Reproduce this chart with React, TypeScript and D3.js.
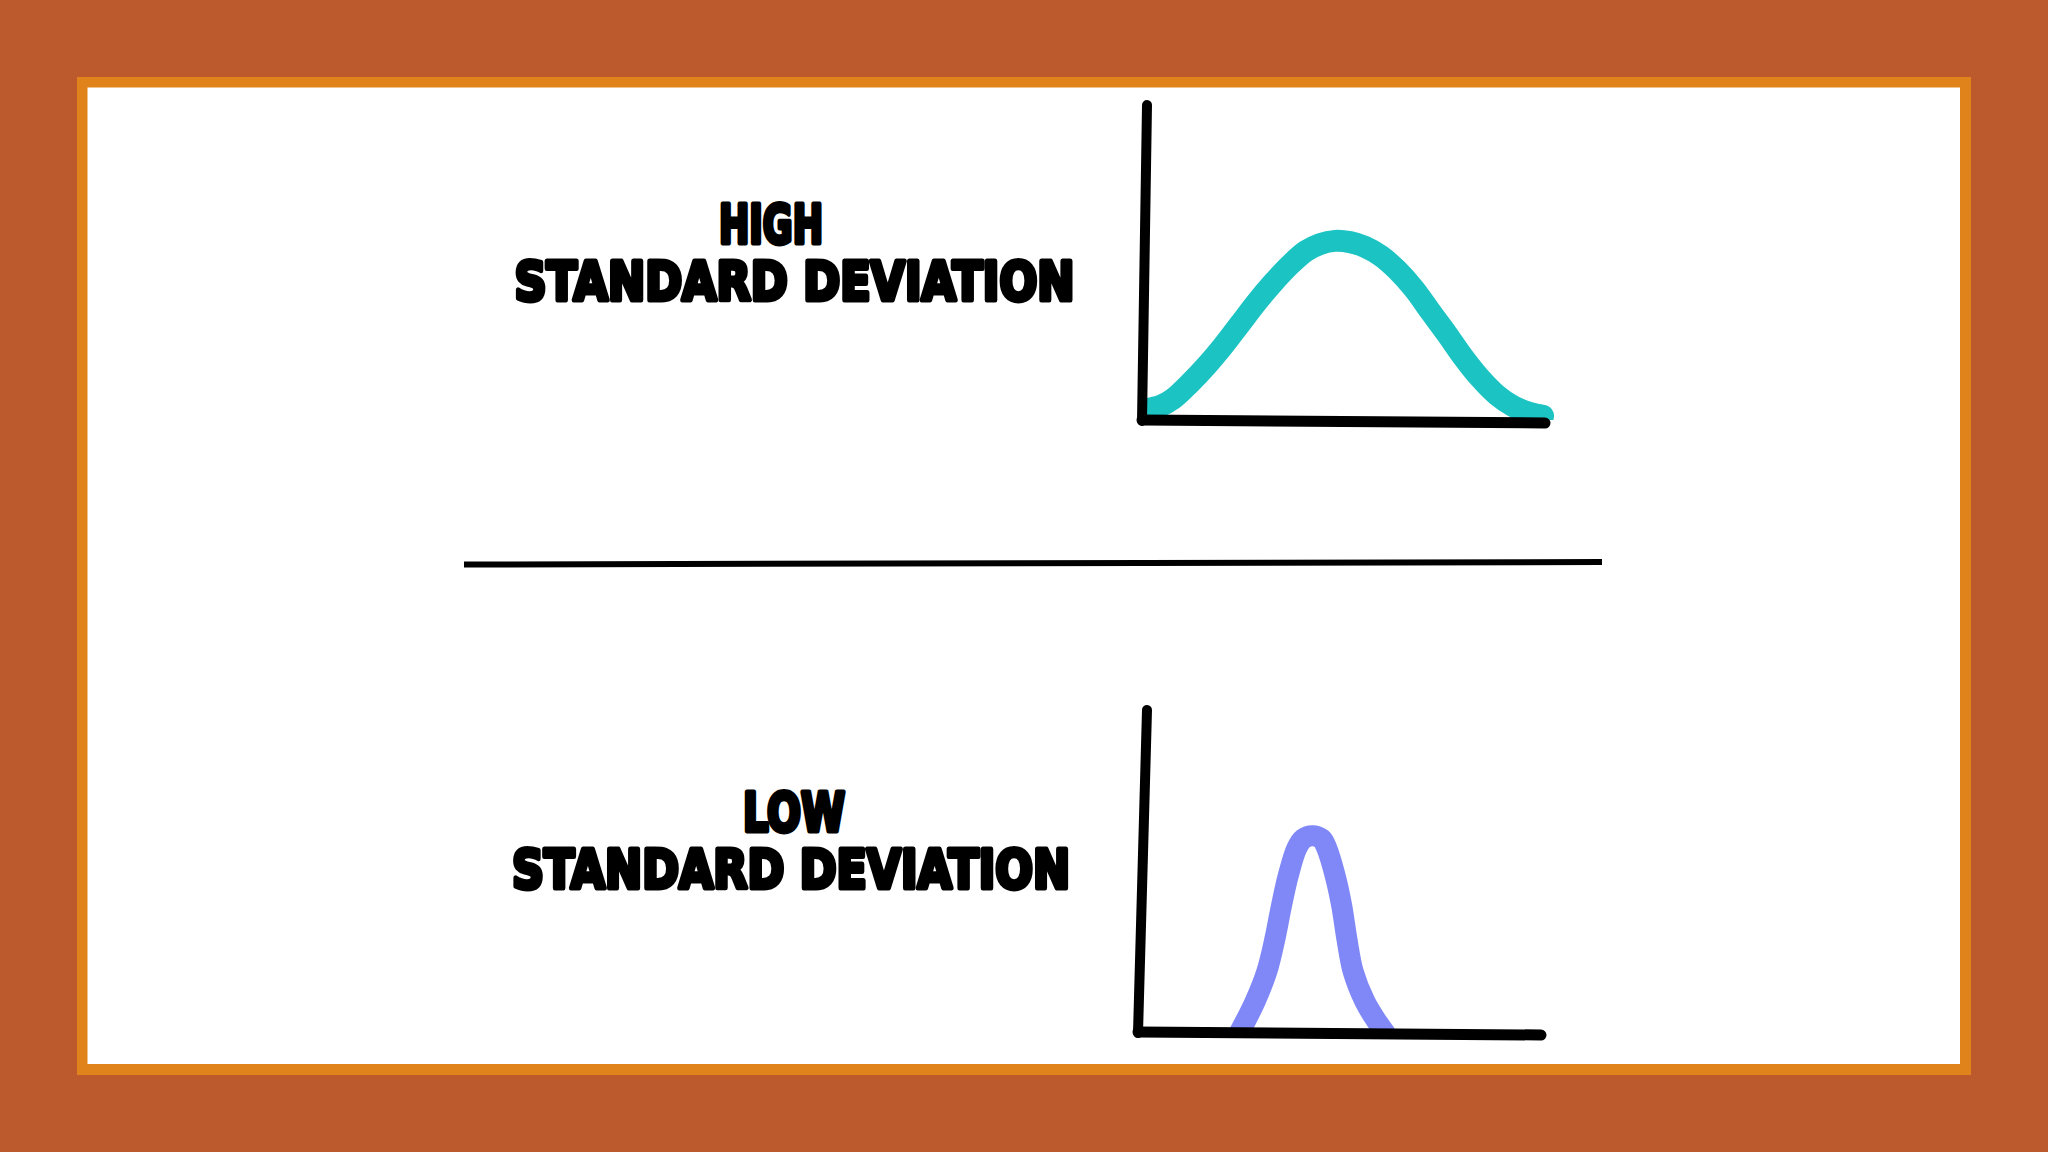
import React from "react";
import * as d3 from "d3";

// ---- Data (units are arbitrary 0–100 on each axis) ----
const highX = [0.25, 3.5, 6.75, 11, 15.25, 19.5, 23.5, 27.75, 31.75, 36, 40, 43.5, 47.25, 51, 54.75, 58.75, 62.75, 67, 71, 75.25, 79.25, 83.5, 87.75, 91.75, 96, 99.25];
const highY = [3.8, 4.7, 7.0, 12.0, 17.7, 24.1, 30.7, 37.7, 43.7, 49.4, 53.8, 56.0, 57.0, 56.6, 55.1, 52.2, 47.8, 41.8, 34.8, 27.5, 20.3, 13.6, 8.2, 4.7, 2.5, 1.6];

const lowX = [24.3, 28.25, 31.2, 33.25, 34.9, 36.6, 38.7, 40.3, 42.6, 44.9, 46.2, 48.25, 49.9, 51.2, 52.8, 55.75, 58.5, 60.75];
const lowY = [0, 9.7, 19, 29.3, 39.6, 48.9, 57.2, 60.1, 61.1, 60.1, 57.2, 48.9, 39.6, 29.3, 19, 9.7, 4.0, 0];

const highLabel = ["HIGH", "STANDARD DEVIATION"];
const lowLabel = ["LOW", "STANDARD DEVIATION"];

const W = 2048;
const H = 1152;

const COLORS = {
  bg: "#BC5A2E",
  frame: "#E0831A",
  paper: "#FFFFFF",
  ink: "#000000",
  teal: "#1CC3C3",
  purple: "#8088F8",
};

type PanelProps = {
  id: string;
  xs: number[];
  ys: number[];
  color: string;
  width: number;
  x0: number;
  x1: number;
  y0: number;
  y1: number;
  tilt: number;
};

function Panel({ id, xs, ys, color, width, x0, x1, y0, y1, tilt }: PanelProps) {
  const x = d3.scaleLinear().domain([0, 100]).range([x0, x1]);
  const y = d3.scaleLinear().domain([0, 100]).range([y0, y1]);
  const pts: [number, number][] = xs.map((v, i) => [x(v), y(ys[i])]);
  const line = d3
    .line<[number, number]>()
    .x((d) => d[0])
    .y((d) => d[1])
    .curve(d3.curveCatmullRom.alpha(0.5));
  // hand-drawn axes: slightly tilted
  const vAxis = `M${x(0) + tilt},${y(100)} L${x(0) - 4},${y(0)}`;
  const hAxis = `M${x(0) - 4},${y(0) - 1} L${x(100) - 1},${y(0) + 2}`;
  return (
    <g>
      <defs>
        <clipPath id={id}>
          <rect x={x(0)} y={0} width={W} height={y(0) - 1} />
        </clipPath>
      </defs>
      <path d={line(pts) || ""} fill="none" stroke={color} strokeWidth={width} strokeLinecap="round" strokeLinejoin="round" clipPath={`url(#${id})`} />
      <path d={vAxis} fill="none" stroke={COLORS.ink} strokeWidth={10} strokeLinecap="round" />
      <path d={hAxis} fill="none" stroke={COLORS.ink} strokeWidth={11} strokeLinecap="round" />
    </g>
  );
}

function Label({ lines, cx1, cx2, b1, b2, w1, w2 }: { lines: string[]; cx1: number; cx2: number; b1: number; b2: number; w1: number; w2: number }) {
  const common = {
    fontFamily: "'DejaVu Sans', 'Noto Sans', sans-serif",
    fontWeight: 700 as const,
    fontSize: 53,
    fill: COLORS.ink,
    stroke: COLORS.ink,
    strokeWidth: 5,
    strokeLinejoin: "round" as const,
    textAnchor: "middle" as const,
    lengthAdjust: "spacingAndGlyphs",
  };
  return (
    <g>
      <text x={cx1} y={b1} textLength={w1} {...common}>{lines[0]}</text>
      <text x={cx2} y={b2} textLength={w2} {...common}>{lines[1]}</text>
    </g>
  );
}

export default function App() {
  return (
    <svg width={W} height={H} viewBox={`0 0 ${W} ${H}`} style={{ position: "absolute", left: 0, top: 0, display: "block" }}>
      <rect x={0} y={0} width={W} height={H} fill={COLORS.bg} />
      <rect x={77} y={77} width={1894} height={998} fill={COLORS.frame} />
      <rect x={87.5} y={87.5} width={1872.5} height={976.5} fill={COLORS.paper} />

      <Label lines={highLabel} cx1={771} cx2={794.5} b1={243} b2={300} w1={104} w2={560} />
      <Label lines={lowLabel} cx1={794} cx2={791} b1={831} b2={888} w1={102} w2={558} />

      <path d="M464,564.5 L1602,562" stroke={COLORS.ink} strokeWidth={6} fill="none" />

      <Panel id="clipHigh" xs={highX} ys={highY} color={COLORS.teal} width={22} x0={1146} x1={1546} y0={421} y1={105} tilt={1} />
      <Panel id="clipLow" xs={lowX} ys={lowY} color={COLORS.purple} width={21} x0={1142} x1={1542} y0={1033} y1={710} tilt={5} />
    </svg>
  );
}
